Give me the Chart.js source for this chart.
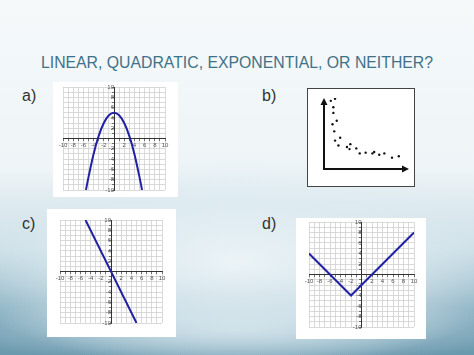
<!DOCTYPE html>
<html>
<head>
<meta charset="utf-8">
<script src="https://cdn.jsdelivr.net/npm/chart.js@4"></script>
<style>
  html, body { margin: 0; padding: 0; }
  body {
    width: 474px; height: 355px; position: relative; overflow: hidden;
    font-family: "Liberation Sans", Arial, sans-serif;
    background:
      radial-gradient(ellipse 62% 30% at 50% 74%, rgba(238,245,248,0.95) 0%, rgba(222,235,241,0.75) 55%, rgba(222,235,241,0) 100%),
      radial-gradient(ellipse 60% 10% at 50% 93%, rgba(200,221,230,0.8) 0%, rgba(200,221,230,0) 100%),
      linear-gradient(to bottom, #f5f9fa 0%, #eef4f7 48%, #c9dde5 70%, #8fb5c5 84%, #6a98ad 100%);
  }
  .title { position: absolute; left: 0; width: 474px; top: 54px; text-align: center;
    font-size: 15.8px; line-height: 18px; color: #3f7287; }
  .lbl { position: absolute; font-size: 16px; line-height: 18px; color: #333; }
  .box { position: absolute; background: #fff; }
  .boxb { border: 1.5px solid #444; box-sizing: border-box; }
  canvas { position: absolute; }
</style>
</head>
<body>
<div class="title">LINEAR, QUADRATIC, EXPONENTIAL, OR NEITHER?</div>
<div class="lbl" style="left:22px;top:87px">a)</div>
<div class="lbl" style="left:262px;top:87px">b)</div>
<div class="lbl" style="left:22px;top:215px">c)</div>
<div class="lbl" style="left:262px;top:215px">d)</div>

<div class="box" style="left:53px;top:82px;width:125px;height:115px"></div>
<div class="box boxb" style="left:307px;top:88px;width:108px;height:99px"></div>
<div class="box" style="left:47px;top:209px;width:129px;height:128px"></div>
<div class="box" style="left:296px;top:218px;width:130px;height:121px"></div>

<canvas id="chart-a" width="118" height="119" style="left:55px;top:79px"></canvas>
<canvas id="chart-b" width="106" height="97" style="left:308px;top:89px"></canvas>
<canvas id="chart-c" width="118" height="119" style="left:52px;top:212px"></canvas>
<canvas id="chart-d" width="121" height="121" style="left:301px;top:214px"></canvas>

<script>
// ── Data ────────────────────────────────────────────
const tickLabels = [-10, -8, -6, -4, -2, 2, 4, 6, 8, 10];

// a) parabola
const quadX = [-5.5, -5, -4, -3, -2, -1, 0, 1, 2, 3, 4, 5, 5.5];
const quadY = [-10, -7.5, -3, 0.5, 3, 4.5, 5, 4.5, 3, 0.5, -3, -7.5, -10];

// b) scatter (arbitrary units, no ticks)
const dotX = [8, 13, 11, 11, 15, 10, 12, 13, 19, 17, 27, 31, 30, 38, 42, 49, 57, 59, 65, 71, 80, 88];
const dotY = [96, 99, 87, 79, 68, 63, 53, 40, 44, 33, 31, 35, 28, 29, 22, 23, 22, 24, 20, 22, 16, 18];

// c) straight line
const linX = [-5, 5];
const linY = [10, -10];

// d) absolute value
const absX = [-10, -2, 10];
const absY = [4, -4, 8];

const LINE_BLUE = '#2121a3';

// ── Shared grid axes ────────────────────────────────
const axis = (pos) => ({
  type: 'linear', position: pos, min: -10, max: 10,
  ticks: {
    stepSize: 1, autoSkip: false, maxRotation: 0, padding: 1,
    color: '#555', font: { size: 6, family: 'Liberation Sans' },
    callback: v => tickLabels.includes(v) ? String(v) : ''
  },
  grid: { color: '#d0d0d0', lineWidth: 0.8, tickLength: 2, tickColor: '#555' },
  border: { color: '#333', width: 1 }
});

const lineSet = (xs, ys, extra) => ({
  data: xs.map((x, i) => ({ x, y: ys[i] })),
  showLine: true, borderColor: LINE_BLUE, borderWidth: 2, pointRadius: 0, ...extra
});

function gridChart(id, ds) {
  return new Chart(document.getElementById(id), {
    type: 'scatter',
    data: { datasets: [ds] },
    options: {
      responsive: false, animation: false,
      layout: { padding: 8 },
      plugins: { legend: { display: false }, tooltip: { enabled: false } },
      scales: { x: axis({ y: 0 }), y: axis({ x: 0 }) }
    }
  });
}

gridChart('chart-a', lineSet(quadX, quadY, { cubicInterpolationMode: 'monotone' }));
gridChart('chart-c', lineSet(linX, linY));
gridChart('chart-d', lineSet(absX, absY));

// ── b) arrow axes ───────────────────────────────────
const arrowAxes = {
  id: 'arrowAxes',
  beforeDatasetsDraw(chart) {
    const { ctx, chartArea: a } = chart;
    ctx.save();
    ctx.strokeStyle = '#111'; ctx.fillStyle = '#111'; ctx.lineWidth = 2;
    ctx.beginPath();
    ctx.moveTo(a.left, a.top + 5); ctx.lineTo(a.left, a.bottom); ctx.lineTo(a.right - 5, a.bottom);
    ctx.stroke();
    ctx.beginPath();
    ctx.moveTo(a.left, a.top); ctx.lineTo(a.left - 3.5, a.top + 7); ctx.lineTo(a.left + 3.5, a.top + 7);
    ctx.fill();
    ctx.beginPath();
    ctx.moveTo(a.right, a.bottom); ctx.lineTo(a.right - 7, a.bottom - 3.5); ctx.lineTo(a.right - 7, a.bottom + 3.5);
    ctx.fill();
    ctx.restore();
  }
};

new Chart(document.getElementById('chart-b'), {
  type: 'scatter',
  data: {
    datasets: [{
      data: dotX.map((x, i) => ({ x, y: dotY[i] })),
      pointRadius: 1.2, pointBackgroundColor: '#111', pointBorderWidth: 0
    }]
  },
  options: {
    responsive: false, animation: false,
    layout: { padding: { left: 16, top: 9, right: 5, bottom: 17 } },
    plugins: { legend: { display: false }, tooltip: { enabled: false } },
    scales: {
      x: { display: false, min: 0, max: 100 },
      y: { display: false, min: 0, max: 100 }
    }
  },
  plugins: [arrowAxes]
});
</script>
</body>
</html>
